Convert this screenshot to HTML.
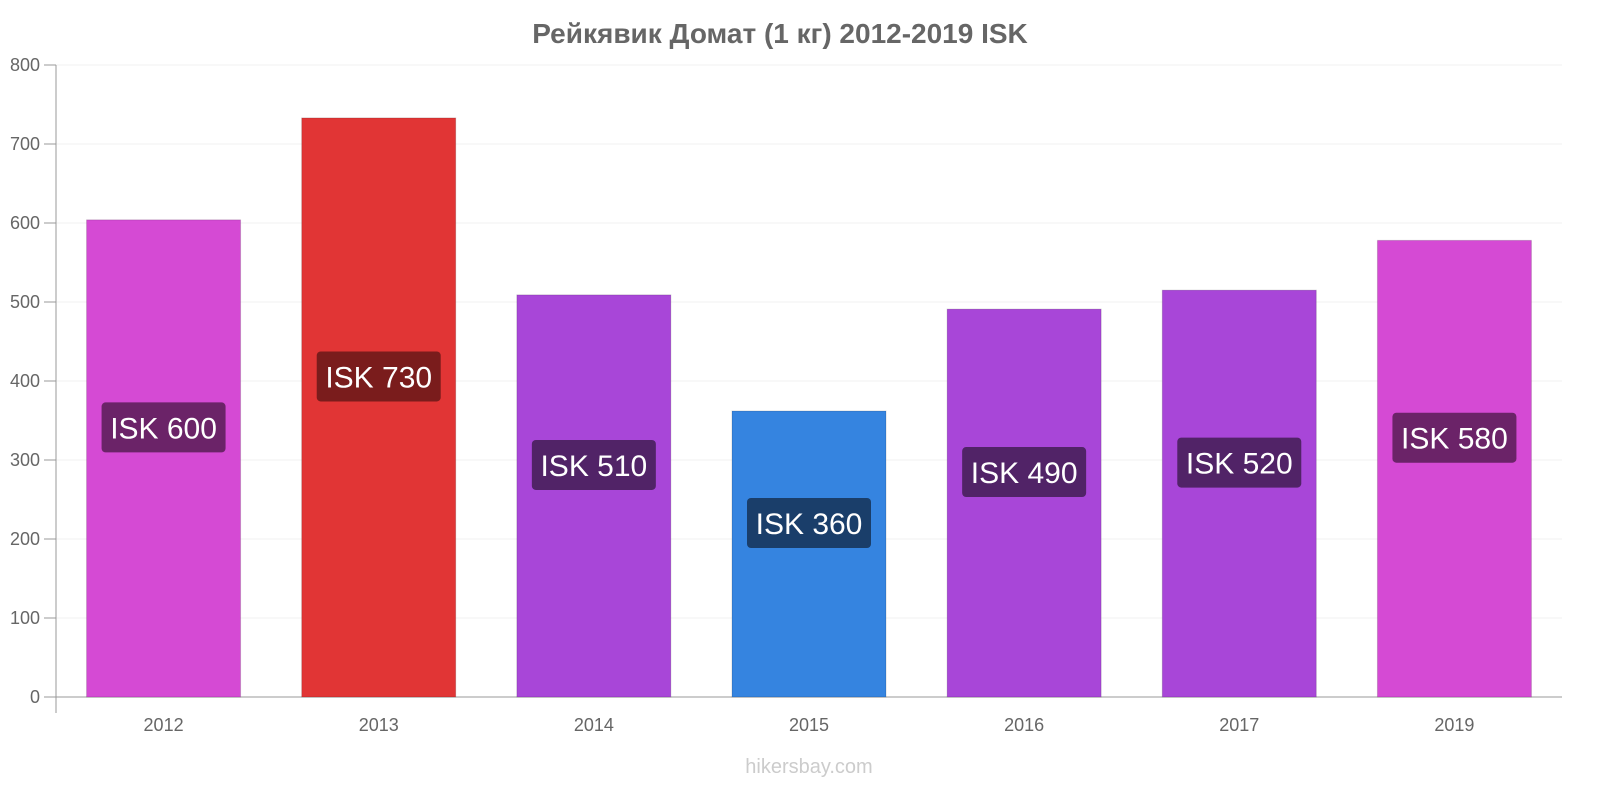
<!DOCTYPE html>
<html><head><meta charset="utf-8"><style>
html,body{margin:0;padding:0;background:#fff;font-family:"Liberation Sans",sans-serif;overflow:hidden}
svg{display:block}
</style></head><body>
<svg id="chart" width="1600" height="800" xmlns="http://www.w3.org/2000/svg" font-family="Liberation Sans, sans-serif">
<text x="780" y="43" text-anchor="middle" font-size="28" font-weight="bold" fill="#666">Рейкявик Домат (1 кг) 2012-2019 ISK</text>
<text x="809" y="773" text-anchor="middle" font-size="20" fill="#ccc">hikersbay.com</text>
<g id="grid"></g><g id="bars"></g><g id="labels"></g>
</svg>
<script>
const categories=["2012","2013","2014","2015","2016","2017","2019"];
const values=[604,733,509,362,491,515,578];
const labels=["ISK 600","ISK 730","ISK 510","ISK 360","ISK 490","ISK 520","ISK 580"];
const yTicks=[0,100,200,300,400,500,600,700,800];
const fills=["#d54ad4","#e13535","#a846d8","#3584e0","#a846d8","#a846d8","#d54ad4"];
const labelFills=["#6b2368","#7a1c1c","#512367","#1a3e6a","#512367","#512367","#6b2368"];
const NS="http://www.w3.org/2000/svg";
const x0=56,x1=1562,yb=697,yt=65,max=800;
const y=v=>yb-(v/max)*(yb-yt);
const band=(x1-x0)/categories.length,bw=154;
const xc=i=>x0+band*(i+0.5);
function mk(t,a,p,txt){const e=document.createElementNS(NS,t);for(const k in a)e.setAttribute(k,a[k]);if(txt!==undefined)e.textContent=txt;p.appendChild(e);return e;}
const g=document.getElementById('grid'),b=document.getElementById('bars'),l=document.getElementById('labels');
yTicks.forEach(t=>{
 const gl=mk('line',{x1:x0,x2:x1,y1:y(t),y2:y(t),stroke:'#f2f2f2'},g);
 
 
 const tk=mk('line',{x1:44,x2:x0,y1:y(t),y2:y(t),stroke:'#999'},g);
 
 
 const tl=mk('text',{x:40,y:y(t)+6,'text-anchor':'end','font-size':18,fill:'#666'},g,t);
 
 
});
const ax=mk('line',{x1:x0,x2:x0,y1:yt,y2:713,stroke:'#999'},g);


const xa=mk('line',{x1:x0,x2:x1,y1:yb,y2:yb,stroke:'#999'},g);


categories.forEach((c,i)=>{
 const r=mk('rect',{x:xc(i)-bw/2,y:y(values[i]),width:bw,height:yb-y(values[i]),fill:fills[i],stroke:'rgba(0,0,0,0.15)'},b);
 
 
 const xl=mk('text',{x:xc(i),y:731,'text-anchor':'middle','font-size':18,fill:'#666'},l,c);
 
 
 const cy=(y(values[i])+yb)/2-31;
 const bx=mk('rect',{x:xc(i)-62,y:cy-25,width:124,height:50,rx:4,fill:labelFills[i]},l);
 
 
 const vt=mk('text',{x:xc(i),y:cy+11,'text-anchor':'middle','font-size':30,fill:'#fff'},l,labels[i]);
 
 
});
</script>
</body></html>
